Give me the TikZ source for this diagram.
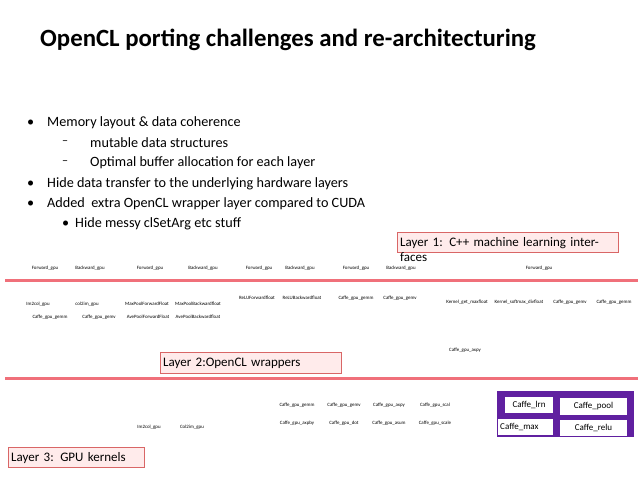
\documentclass[tikz,border=0pt]{standalone}
\usepackage{fontspec}
\setmainfont{Carlito}
\definecolor{sepred}{RGB}{240,112,122}
\definecolor{purp}{RGB}{96,32,160}
\begin{document}
\begin{tikzpicture}[x=1pt,y=-1pt,
 tiny/.style={font=\fontsize{4.9}{5}\selectfont,inner sep=0pt},
 bl/.style={anchor=west,font=\fontsize{14.2}{16}\selectfont,inner sep=0pt},
 layer/.style={draw=red!75!black!60,fill=red!8,anchor=north west,font=\fontsize{13}{15}\selectfont,inner xsep=3pt,inner ysep=0pt,text depth=0pt},
 sep/.style={line width=3pt,draw=sepred},
 wbox/.style={fill=white,font=\fontsize{9}{10}\selectfont,inner sep=0pt}]
\useasboundingbox (0,0) rectangle (638,478);
\node[anchor=west,font=\bfseries\fontsize{24.8}{28}\selectfont,inner sep=0pt] (title) at (40,40) {OpenCL porting challenges and re-architecturing};
\node[bl] (b1) at (27,123) {•}; \node[bl] (t1) at (47,123) {Memory layout \& data coherence};
\node[bl] (d1) at (62,143) {\large –}; \node[bl] (t2) at (90,143) {mutable data structures};
\node[bl] (d2) at (62,163) {\large –}; \node[bl] (t3) at (90,163) {Optimal buffer allocation for each layer};
\node[bl] (b2) at (27,184) {•}; \node[bl] (t4) at (47,184) {Hide data transfer to the underlying hardware layers};
\node[bl] (b3) at (27,204) {•}; \node[bl] (t5) at (47,204) {Added \ extra OpenCL wrapper layer compared to CUDA};
\node[bl] (b4) at (62,224) {•}; \node[bl] (t6) at (75,224) {Hide messy clSetArg etc stuff};
\node[layer,minimum width=221pt,minimum height=20pt,text width=215pt,align=left] (L1) at (397,232) {Layer 1: C++ machine learning interfaces};
\node[layer,minimum width=181pt,minimum height=21pt,text width=175pt,align=left] (L2) at (160,352) {Layer 2:OpenCL wrappers};
\node[layer,minimum width=136pt,minimum height=20pt,text width=130pt,align=left] (L3) at (8,447) {Layer 3: GPU kernels};
\coordinate (s1a) at (5,281); \coordinate (s1b) at (638,281);
\coordinate (s2a) at (5,379); \coordinate (s2b) at (638,379);
\draw[sep] (s1a) -- (s1b); \draw[sep] (s2a) -- (s2b);
\foreach \x/\t [count=\i] in {45/Forward\_gpu,90/Backward\_gpu,150/Forward\_gpu,203/Backward\_gpu,259/Forward\_gpu,300/Backward\_gpu,356/Forward\_gpu,401/Backward\_gpu,539/Forward\_gpu}
 \node[tiny] (r1\i) at (\x,268) {\t};
\foreach \x/\y/\t [count=\i] in {38/304/Im2col\_gpu,87/304/col2im\_gpu,147/304/MaxPoolForwardFloat,198/304/MaxPoolBackwardfloat,257/298/ReLUForwardfloat,302/298/ReLUBackwardfloat,356/298/Caffe\_gpu\_gemm,400/298/Caffe\_gpu\_gemv,467/302/Kernel\_get\_maxfloat,519/302/Kernel\_softmax\_divfloat,570/302/Caffe\_gpu\_gemv,614/302/Caffe\_gpu\_gemm,50/317/Caffe\_gpu\_gemm,99/317/Caffe\_gpu\_gemv,148/317/AvePoolForwardFloat,198/317/AvePoolBackwardfloat,465/350/Caffe\_gpu\_axpy}
 \node[tiny] (r2\i) at (\x,\y) {\t};
\foreach \x/\y/\t [count=\i] in {297/405/Caffe\_gpu\_gemm,344/405/Caffe\_gpu\_gemv,389/405/Caffe\_gpu\_axpy,435/405/Caffe\_gpu\_scal,297/423/Caffe\_gpu\_axpby,344/423/Caffe\_gpu\_dot,389/423/Caffe\_gpu\_asum,435/423/Caffe\_gpu\_scale,149/427/Im2col\_gpu,192/427/Col2im\_gpu}
 \node[tiny] (r3\i) at (\x,\y) {\t};
\fill[purp] (497,391) rectangle (634,437);
\node[wbox,minimum width=48pt,minimum height=16pt] (lrn) at (529,405) {Caffe\_lrn};
\node[wbox,minimum width=67pt,minimum height=17pt] (pool) at (593.5,406.5) {Caffe\_pool};
\node[wbox,minimum width=55pt,minimum height=16pt,anchor=west,text width=51pt,align=left,inner xsep=2pt] (max) at (498,427) {Caffe\_max};
\node[wbox,minimum width=67pt,minimum height=16pt] (relu) at (593.5,428) {Caffe\_relu};
\end{tikzpicture}
\end{document}
